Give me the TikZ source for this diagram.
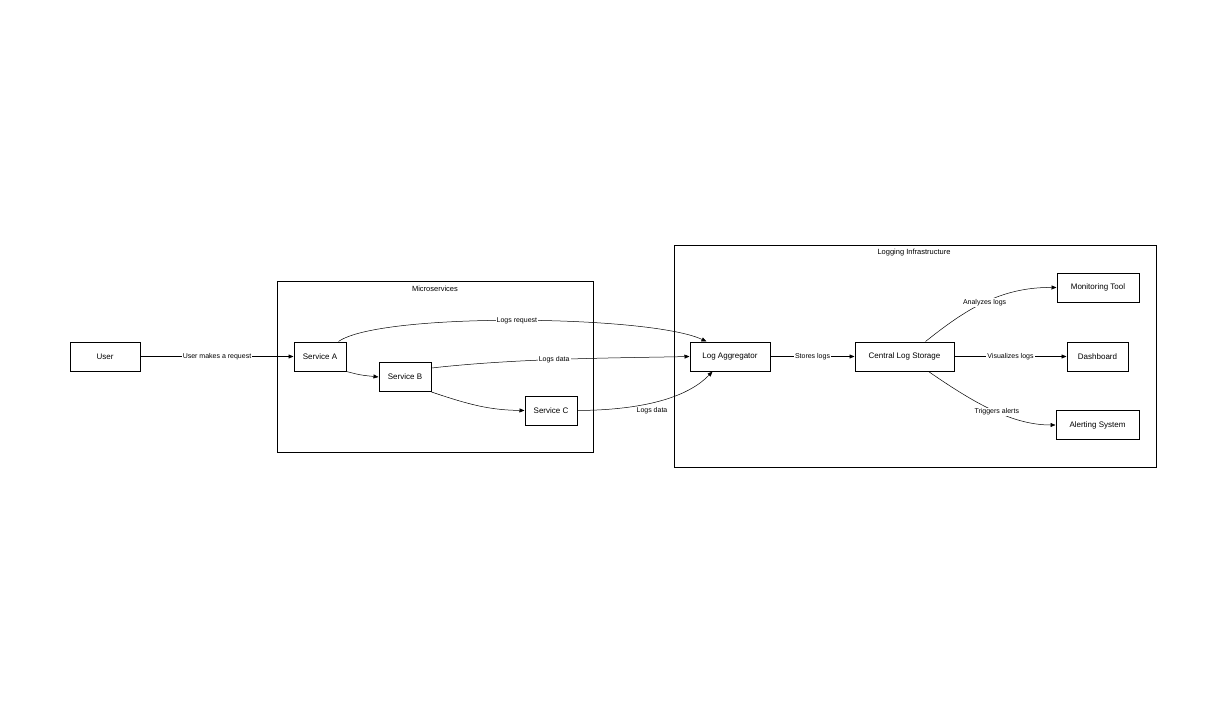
\documentclass[tikz,border=0pt]{standalone}
\usepackage{fontspec}
\setmainfont{Liberation Sans}
\usetikzlibrary{arrows.meta}
\begin{document}
\begin{tikzpicture}[x=1pt,y=-1pt,
  box/.style={draw,line width=1pt,minimum height=29pt,inner sep=0pt,font=\fontsize{8}{9}\selectfont},
  grp/.style={draw,line width=1pt},
  edge/.style={-{Triangle[length=5pt,width=4pt]},line width=0.5pt},
  lbl/.style={fill=white,inner sep=1pt,font=\fontsize{7}{8}\selectfont}]
\useasboundingbox (0,0) rectangle (1232,720);
\draw[grp] (277,281) rectangle (593,452);
\node[font=\fontsize{7.5}{8}\selectfont] (mt) at (435,289) {Microservices};
\draw[grp] (674,245) rectangle (1156,467);
\node[font=\fontsize{7.5}{8}\selectfont] (lt) at (914,253) {Logging Infrastructure};
\node[box,minimum width=70pt] (user) at (105,356.5) {User};
\node[box,minimum width=52pt] (sa) at (320,356.5) {Service A};
\node[box,minimum width=52pt] (sb) at (405,377) {Service B};
\node[box,minimum width=52pt] (sc) at (551,410.5) {Service C};
\node[box,minimum width=80pt] (la) at (730,356.5) {Log Aggregator};
\node[box,minimum width=99pt] (cls) at (904.5,356.5) {Central Log Storage};
\node[box,minimum width=82pt] (mon) at (1098,287.5) {Monitoring Tool};
\node[box,minimum width=61pt] (dash) at (1097.5,356.5) {Dashboard};
\node[box,minimum width=83pt] (alert) at (1097.5,425) {Alerting System};
\draw[edge] (user) -- node[lbl]{User makes a request} (sa);
\draw[edge] (sa.south east) .. controls (360,375) .. (sb.west);
\draw[edge] (sb.south east) .. controls (470,405) and (490,410) .. (sc.west);
\draw[edge] ([xshift=-8pt]sa.north east) .. controls (380,312) and (650,315) .. node[lbl,pos=0.5]{Logs request} ([xshift=17pt]la.north west);
\draw[edge] ([yshift=-6pt]sb.north east) .. controls (520,358) and (620,358) .. node[lbl,pos=0.45]{Logs data} (la.west);
\draw[edge] (sc.east) .. controls (650,410) and (690,395) .. ([xshift=23pt]la.south west);
\node[lbl] (ld) at (652,411) {Logs data};
\draw[edge] (la) -- node[lbl]{Stores logs} (cls);
\draw[edge] (cls) -- node[lbl]{Visualizes logs} (dash);
\draw[edge] ([xshift=-29pt]cls.north east) .. controls (965,310) and (1000,287) .. node[lbl,pos=0.5]{Analyzes logs} (mon.west);
\draw[edge] ([xshift=-26pt]cls.south east) .. controls (970,400) and (1010,425) .. node[lbl,pos=0.55]{Triggers alerts} (alert.west);
\end{tikzpicture}
\end{document}
